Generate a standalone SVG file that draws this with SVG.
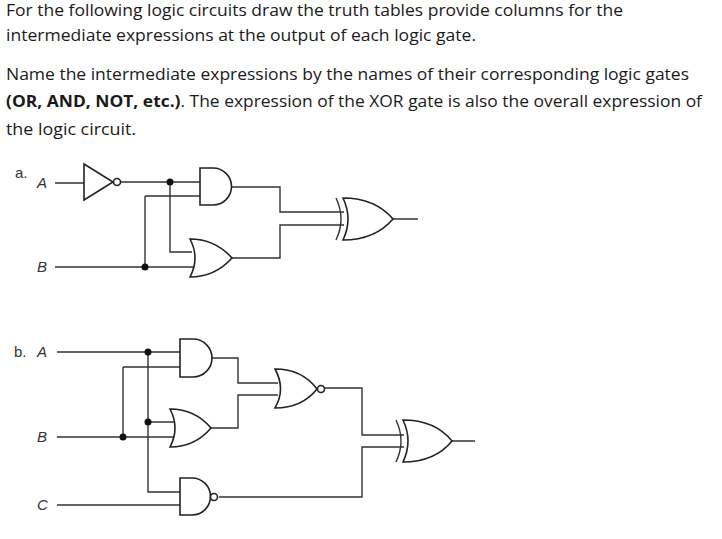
<svg xmlns="http://www.w3.org/2000/svg" width="722" height="539" viewBox="0 0 722 539">
<style>
.t{font-family:"Open Sans","Liberation Sans",sans-serif;font-size:16.5px;fill:#1a1a1a}
.l{font-family:"Liberation Sans",Arial,sans-serif;font-size:15px;fill:#333}
.li{font-family:"Liberation Sans",Arial,sans-serif;font-size:15px;font-style:italic;fill:#333}
.g{fill:#fff;stroke:#222;stroke-width:1.6}
.w{fill:none;stroke:#333;stroke-width:1.4}
.d{fill:#111}
</style>
<rect width="722" height="539" fill="#fff"/>
<g id="text">
<text class="t" x="6" y="16" textLength="617" lengthAdjust="spacingAndGlyphs">For the following logic circuits draw the truth tables provide columns for the</text>
<text class="t" x="6" y="41" textLength="470" lengthAdjust="spacingAndGlyphs">intermediate expressions at the output of each logic gate.</text>
<text class="t" x="6" y="80" textLength="683" lengthAdjust="spacingAndGlyphs">Name the intermediate expressions by the names of their corresponding logic gates</text>
<text class="t" x="6" y="107" textLength="696" lengthAdjust="spacingAndGlyphs"><tspan font-weight="bold">(OR, AND, NOT, etc.)</tspan>. The expression of the XOR gate is also the overall expression of</text>
<text class="t" x="6" y="135" textLength="130" lengthAdjust="spacingAndGlyphs">the logic circuit.</text>
<text class="l" x="15" y="178">a.</text>
<text class="li" x="37" y="188">A</text>
<text class="li" x="37" y="272">B</text>
<text class="l" x="14" y="357">b.</text>
<text class="li" x="37" y="357">A</text>
<text class="li" x="37" y="442">B</text>
<text class="li" x="37" y="510">C</text>
</g>
<g id="connectors">
<path class="w" d="M55 183H84 M121 182H200 M145 196H200 M145 196V267 M55 267H194 M170 182V252H192 M232 187H280V212H344 M232 258H280V225H344 M393 219H418"/>
<path class="w" d="M57 352H180 M123 367H180 M123 367V437 M57 437H174 M148 352V492H180 M148 422H174 M57 505H180 M212 358H238V383H278 M211 428H238V395H278 M325 388H362V435H404 M219 497H362V447H404 M452 441H475"/>
<circle class="d" cx="170" cy="182" r="3.5"/>
<circle class="d" cx="145" cy="267" r="3.5"/>
<circle class="d" cx="148" cy="352" r="3.5"/>
<circle class="d" cx="123" cy="437" r="3.5"/>
<circle class="d" cx="148" cy="422" r="3.5"/>
</g>
<g id="not_a"><path class="g" d="M84 164L113 182L84 200Z"/><circle class="g" cx="117" cy="182" r="3.5"/></g>
<g id="and_a"><path class="g" d="M200 168H213A18.5 18.5 0 0 1 213 205H200Z"/></g>
<g id="or_a"><path class="g" d="M190 239Q215 239 232 258Q215 277 190 277Q200 258 190 239Z"/></g>
<g id="xor_a"><path class="g" d="M343 198Q375 198 393 219Q375 240 343 240Q353 219 343 198Z"/><path class="w" d="M336 198Q346 219 336 240"/></g>
<g id="and1_b"><path class="g" d="M180 339H193A19 19 0 0 1 193 377H180Z"/></g>
<g id="or_b"><path class="g" d="M170 409Q195 409 211 428Q195 447 170 447Q180 428 170 409Z"/></g>
<g id="nor_b"><path class="g" d="M275 369Q302 369 317 389Q302 408 275 408Q286 389 275 369Z"/><circle class="g" cx="321" cy="389" r="3.5"/></g>
<g id="nand_b"><path class="g" d="M180 478H192A18.5 18.5 0 0 1 192 515H180Z"/><circle class="g" cx="214" cy="497" r="3.5"/></g>
<g id="xor_b"><path class="g" d="M403 420Q435 420 452 441Q435 462 403 462Q413 441 403 420Z"/><path class="w" d="M396 420Q406 441 396 462"/></g>
</svg>
